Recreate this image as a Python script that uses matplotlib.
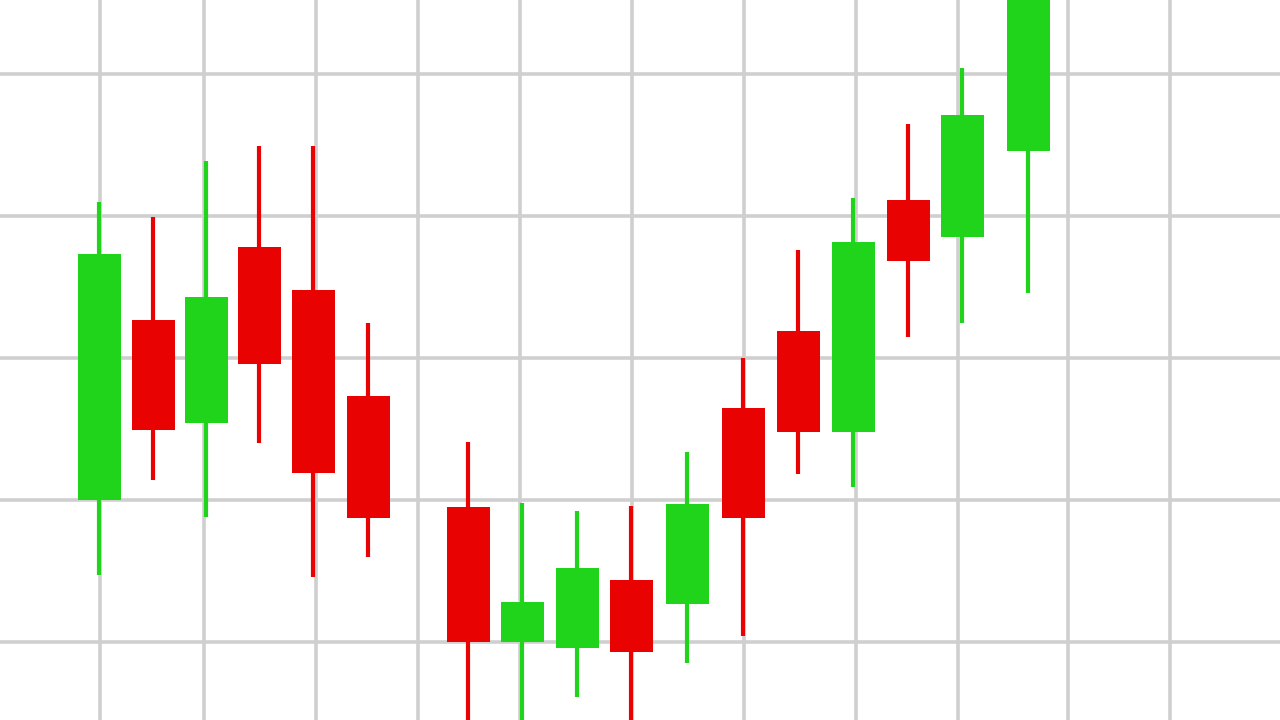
import matplotlib
matplotlib.use("Agg")
import matplotlib.pyplot as plt

# candle positions (time axis) and OHLC values
x_pos = [99, 153, 206, 259, 313, 368, 468, 522, 577, 631, 687, 743, 798, 853, 908, 962, 1028]
opens  = [2.00, 3.27, 2.54, 3.78, 3.48, 2.73, 1.95, 1.00, 0.96, 1.44, 1.27, 2.65, 3.19, 2.48, 4.11, 3.85, 4.46]
highs  = [4.10, 3.99, 4.39, 4.49, 4.49, 3.25, 2.41, 1.98, 1.92, 1.96, 2.34, 3.00, 3.76, 4.13, 4.65, 5.04, 5.94]
lows   = [1.47, 2.14, 1.88, 2.40, 1.46, 1.60, 0.31, 0.31, 0.61, 0.31, 0.85, 1.04, 2.18, 2.09, 3.15, 3.25, 3.46]
closes = [3.73, 2.49, 3.43, 2.96, 2.19, 1.87, 1.00, 1.28, 1.52, 0.93, 1.97, 1.87, 2.48, 3.82, 3.68, 4.71, 5.66]

grid_x = [100, 204, 316, 418, 520, 632, 744, 856, 958, 1068, 1170]
grid_y = [1.0, 2.0, 3.0, 4.0, 5.0]

UP = "#1fd41a"
DOWN = "#e80202"

fig = plt.figure(figsize=(12.8, 7.2), dpi=100)
ax = fig.add_axes([0, 0, 1, 1])
ax.set_xlim(0, 1280)
ax.set_ylim(0.451, 5.521)
ax.axis("off")

for gx in grid_x:
    ax.axvline(gx, color="#cfcfcf", lw=2.6, zorder=0)
for gy in grid_y:
    ax.axhline(gy, color="#cfcfcf", lw=2.6, zorder=0)

body_w = 43
for x, o, h, l, c in zip(x_pos, opens, highs, lows, closes):
    col = UP if c >= o else DOWN
    ax.vlines(x, l, h, color=col, lw=3, zorder=2)
    ax.bar(x, abs(c - o), bottom=min(o, c), width=body_w, color=col, zorder=3)

fig.savefig("out.png", dpi=100)
